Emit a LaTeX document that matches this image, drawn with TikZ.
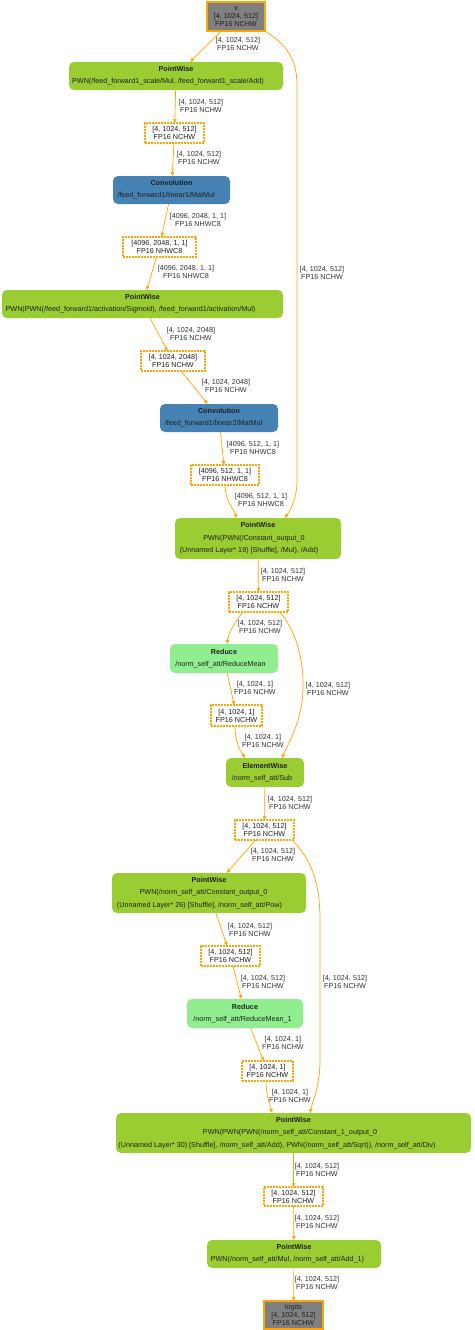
\documentclass[tikz,border=0pt]{standalone}
\usepackage{fontspec}
\setmainfont{Liberation Sans}
\usetikzlibrary{arrows.meta,calc}
\definecolor{ygreen}{HTML}{9ACD32}
\definecolor{sblue}{HTML}{4682B4}
\definecolor{lgreen}{HTML}{90EE90}
\definecolor{orng}{HTML}{FFA500}
\definecolor{gbox}{HTML}{808080}
\newcommand\padR[1]{\rule{#1}{0pt}}
\begin{document}
\begin{tikzpicture}[x=1pt,y=1pt,
  every node/.style={font=\fontsize{7.2}{8}\selectfont, inner sep=0pt, outer sep=0pt, text=black!88},
  iobox/.style={draw=orng, line width=2pt, fill=gbox, align=center},
  tensor/.style={draw=orng, dash pattern=on 2pt off 1pt, line width=1.4pt, fill=white, align=center},
  opbox/.style={rounded corners=5pt, align=center},
  pwbox/.style={opbox, fill=ygreen},
  convbox/.style={opbox, fill=sblue},
  redbox/.style={opbox, fill=lgreen},
  elabel/.style={align=center, text=black!80},
  edge/.style={draw=orng, line width=0.7pt, -{Triangle[length=4pt,width=3.4pt]}}
]
\fill[white] (0,0) rectangle (474,-1330);
\useasboundingbox (0,0) rectangle (474,-1330);

% nodes
\node[iobox, minimum width=58pt, minimum height=29pt] (x) at (236,-16.5) {x\\[-0.5pt][4, 1024, 512]\\FP16 NCHW};
\node[pwbox, minimum width=214pt, minimum height=28pt] (pw1) at (176,-76) {\textbf{PointWise}\\[4pt]PWN(/feed\_forward1\_scale/Mul, /feed\_forward1\_scale/Add)\padR{16pt}};
\node[tensor, minimum width=59pt, minimum height=20pt] (t1) at (174.5,-133) {[4, 1024, 512]\\FP16 NCHW};
\node[convbox, minimum width=117pt, minimum height=28pt] (conv1) at (171.5,-190) {\textbf{Convolution}\\[4pt]/feed\_forward1/linear1/MatMul\padR{11pt}};
\node[tensor, minimum width=73pt, minimum height=20pt] (t2) at (159.5,-247) {[4096, 2048, 1, 1]\\FP16 NHWC8};
\node[pwbox, minimum width=281pt, minimum height=28pt] (pw2) at (142.5,-304) {\textbf{PointWise}\\[4pt]PWN(PWN(/feed\_forward1/activation/Sigmoid), /feed\_forward1/activation/Mul)\padR{24pt}};
\node[tensor, minimum width=64pt, minimum height=20pt] (t3) at (173,-361) {[4, 1024, 2048]\\FP16 NCHW};
\node[convbox, minimum width=118pt, minimum height=28pt] (conv2) at (219,-418) {\textbf{Convolution}\\[4pt]/feed\_forward1/linear2/MatMul\padR{11pt}};
\node[tensor, minimum width=68pt, minimum height=20pt] (t4) at (225,-475) {[4096, 512, 1, 1]\\FP16 NHWC8};
\node[pwbox, minimum width=166pt, minimum height=41pt] (pw3) at (258,-538.5) {\textbf{PointWise}\\[4.5pt]PWN(PWN(/Constant\_output\_0\padR{8pt}\\[4.5pt](Unnamed Layer* 19) [Shuffle], /Mul), /Add)\padR{18pt}};
\node[tensor, minimum width=59pt, minimum height=20pt] (t5) at (258.5,-602) {[4, 1024, 512]\\FP16 NCHW};
\node[redbox, minimum width=108pt, minimum height=29pt] (red1) at (224,-658.5) {\textbf{Reduce}\\[4pt]/norm\_self\_att/ReduceMean\padR{7pt}};
\node[tensor, minimum width=51pt, minimum height=21pt] (t6) at (236.5,-715.5) {[4, 1024, 1]\\FP16 NCHW};
\node[pwbox, minimum width=78pt, minimum height=29pt] (ew) at (265,-772.5) {\textbf{ElementWise}\\[4pt]/norm\_self\_att/Sub\padR{6pt}};
\node[tensor, minimum width=59pt, minimum height=20pt] (t7) at (264.5,-830) {[4, 1024, 512]\\FP16 NCHW};
\node[pwbox, minimum width=194pt, minimum height=40pt] (pw4) at (209,-893) {\textbf{PointWise}\\[4.5pt]PWN(/norm\_self\_att/Constant\_output\_0\padR{11pt}\\[4.5pt](Unnamed Layer* 26) [Shuffle], /norm\_self\_att/Pow)\padR{19pt}};
\node[tensor, minimum width=59pt, minimum height=20pt] (t8) at (230.5,-956) {[4, 1024, 512]\\FP16 NCHW};
\node[redbox, minimum width=116pt, minimum height=29pt] (red2) at (245,-1013.5) {\textbf{Reduce}\\[4pt]/norm\_self\_att/ReduceMean\_1\padR{5pt}};
\node[tensor, minimum width=51pt, minimum height=20pt] (t9) at (267.5,-1071) {[4, 1024, 1]\\FP16 NCHW};
\node[pwbox, minimum width=355pt, minimum height=40pt] (pw5) at (293.5,-1133) {\textbf{PointWise}\\[4.5pt]PWN(PWN(PWN(/norm\_self\_att/Constant\_1\_output\_0\padR{7pt}\\[4.5pt](Unnamed Layer* 30) [Shuffle], /norm\_self\_att/Add), PWN(/norm\_self\_att/Sqrt)), /norm\_self\_att/Div)\padR{33pt}};
\node[tensor, minimum width=59pt, minimum height=19pt] (t10) at (293.5,-1196.5) {[4, 1024, 512]\\FP16 NCHW};
\node[pwbox, minimum width=174pt, minimum height=28pt] (pw6) at (294,-1254) {\textbf{PointWise}\\[4pt]PWN(/norm\_self\_att/Mul, /norm\_self\_att/Add\_1)\padR{13pt}};
\node[iobox, minimum width=59pt, minimum height=28pt] (logits) at (293.5,-1315) {logits\\[-0.5pt][4, 1024, 512]\\FP16 NCHW};

% edges
\draw[edge] (x) -- (pw1);
\draw[edge] (x.south east) .. controls (282,-42) and (297,-55) .. (297,-85) -- (297,-480) .. controls (297,-500) and (290,-510) .. ($(pw3.north)+(27,0)$);
\draw[edge] (pw1) -- (t1);
\draw[edge] (t1) -- (conv1);
\draw[edge] (conv1) -- (t2);
\draw[edge] (t2) -- (pw2);
\draw[edge] (pw2) -- (t3);
\draw[edge] (t3) -- (conv2);
\draw[edge] (conv2) -- (t4);
\draw[edge] (t4.south) .. controls (225,-500) and (233,-508) .. ($(pw3.north)+(-21,0)$);
\draw[edge] (pw3) -- (t5);
\draw[edge] ($(t5.south)+(-16,0)$) .. controls (234,-624) and (228,-634) .. ($(red1.north)+(3,0)$);
\draw[edge] ($(t5.south)+(21,0)$) .. controls (296,-630) and (304,-660) .. (303,-690) .. controls (302,-720) and (290,-740) .. ($(ew.north)+(17,0)$);
\draw[edge] (red1) -- (t6);
\draw[edge] ($(t6.south)+(-1.5,0)$) .. controls (235,-742) and (240,-750) .. ($(ew.north)+(-20,0)$);
\draw[edge] (ew) -- (t7);
\draw[edge] (t7) -- (pw4);
\draw[edge] ($(t7.south)+(27.5,0)$) .. controls (310,-858) and (320,-880) .. (320,-920) -- (320,-1060) .. controls (320,-1085) and (313,-1100) .. ($(pw5.north)+(16.5,0)$);
\draw[edge] (pw4) -- (t8);
\draw[edge] (t8) -- (red2);
\draw[edge] (red2) -- (t9);
\draw[edge] ($(t9.south)+(-1.5,0)$) .. controls (266,-1096) and (270,-1105) .. ($(pw5.north)+(-21.5,0)$);
\draw[edge] (pw5) -- (t10);
\draw[edge] (t10) -- (pw6);
\draw[edge] (pw6) -- (logits);

% edge labels
\node[elabel] (l1) at (238,-44) {[4, 1024, 512]\\FP16 NCHW};
\node[elabel] (l2) at (322,-273) {[4, 1024, 512]\\FP16 NCHW};
\node[elabel] (l3) at (201,-106) {[4, 1024, 512]\\FP16 NCHW};
\node[elabel] (l4) at (199,-158) {[4, 1024, 512]\\FP16 NCHW};
\node[elabel] (l5) at (198,-220) {[4096, 2048, 1, 1]\\FP16 NHWC8};
\node[elabel] (l6) at (186,-272) {[4096, 2048, 1, 1]\\FP16 NHWC8};
\node[elabel] (l7) at (191,-334) {[4, 1024, 2048]\\FP16 NCHW};
\node[elabel] (l8) at (226,-386) {[4, 1024, 2048]\\FP16 NCHW};
\node[elabel] (l9) at (253,-448) {[4096, 512, 1, 1]\\FP16 NHWC8};
\node[elabel] (l10) at (261,-500) {[4096, 512, 1, 1]\\FP16 NHWC8};
\node[elabel] (l11) at (283,-575) {[4, 1024, 512]\\FP16 NCHW};
\node[elabel] (l12) at (260,-627) {[4, 1024, 512]\\FP16 NCHW};
\node[elabel] (l13) at (328,-689) {[4, 1024, 512]\\FP16 NCHW};
\node[elabel] (l14) at (255,-688) {[4, 1024, 1]\\FP16 NCHW};
\node[elabel] (l15) at (263,-741) {[4, 1024, 1]\\FP16 NCHW};
\node[elabel] (l16) at (290,-803) {[4, 1024, 512]\\FP16 NCHW};
\node[elabel] (l17) at (273,-855) {[4, 1024, 512]\\FP16 NCHW};
\node[elabel] (l18) at (345,-982) {[4, 1024, 512]\\FP16 NCHW};
\node[elabel] (l19) at (250,-930) {[4, 1024, 512]\\FP16 NCHW};
\node[elabel] (l20) at (263,-982) {[4, 1024, 512]\\FP16 NCHW};
\node[elabel] (l21) at (283,-1043) {[4, 1024, 1]\\FP16 NCHW};
\node[elabel] (l22) at (290,-1096) {[4, 1024, 1]\\FP16 NCHW};
\node[elabel] (l23) at (317,-1170) {[4, 1024, 512]\\FP16 NCHW};
\node[elabel] (l24) at (317,-1222) {[4, 1024, 512]\\FP16 NCHW};
\node[elabel] (l25) at (317,-1283) {[4, 1024, 512]\\FP16 NCHW};
\end{tikzpicture}
\end{document}
